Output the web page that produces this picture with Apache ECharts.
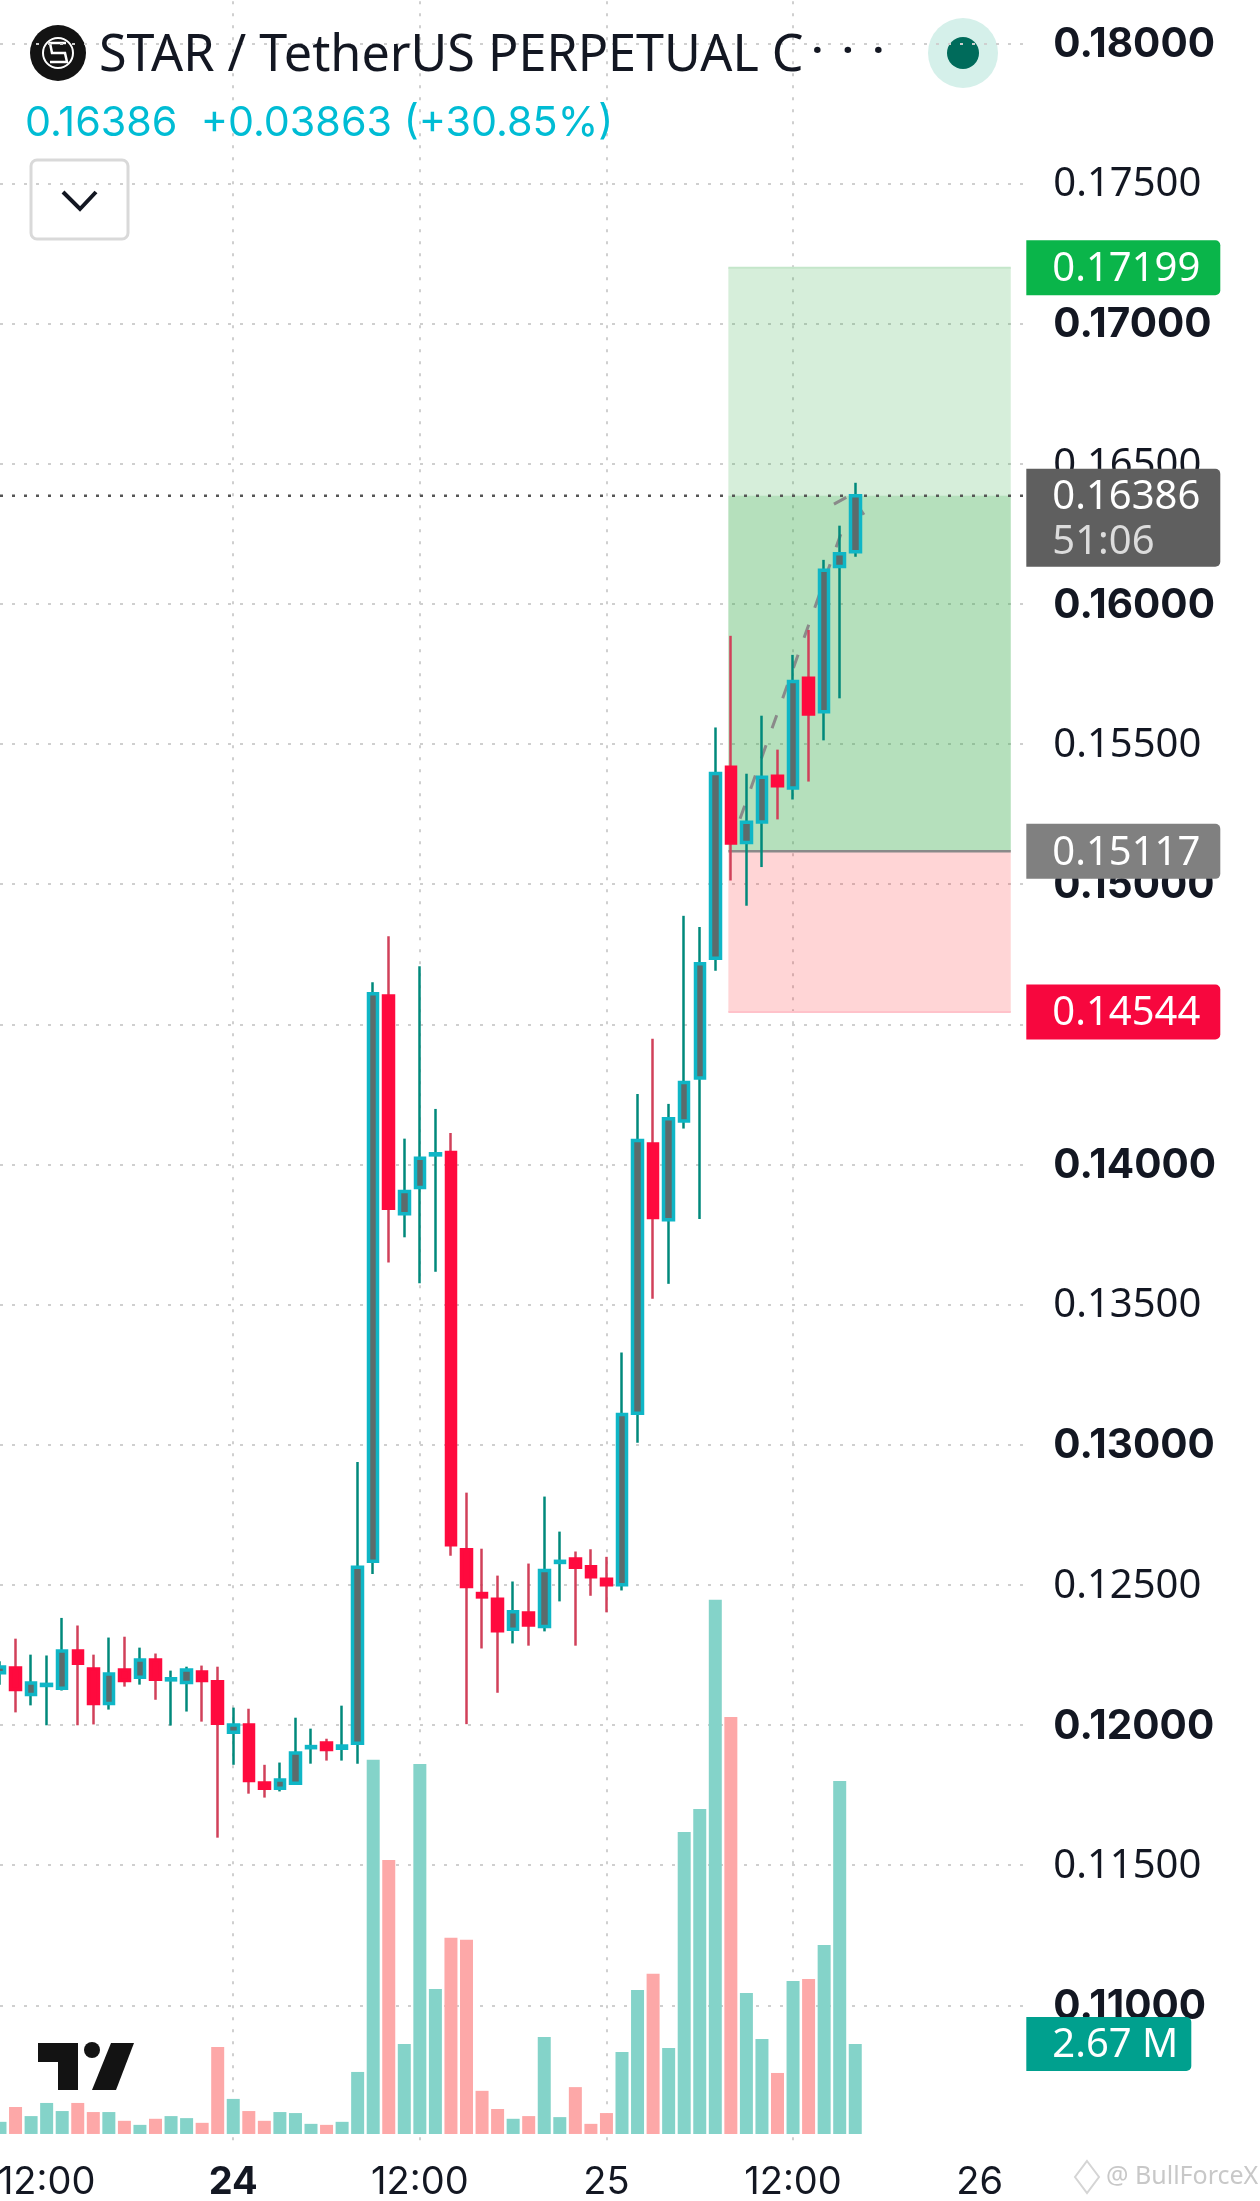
<!DOCTYPE html>
<html><head><meta charset="utf-8">
<style>html,body{margin:0;padding:0;background:#fff}#c{width:1260px;height:2201px}</style>
<script src="https://cdn.jsdelivr.net/npm/echarts@6/dist/echarts.min.js"></script>
</head><body><div id="c"></div>
<script>
const titleText = 'STAR / TetherUS PERPETUAL C';
const subtitleText = '0.16386  +0.03863 (+30.85%)';
const firstHour = 9; // bar 0 is 09:00 on the 23rd; x axis counts hours from 23rd 00:00
const lastHour = 75;
const opens = [.12186,.12203,.12109,.12141,.12131,.12264,.12200,.12077,.12196,.12170,.12232,.12161,.12152,.12189,.12154,.11974,.12000,.11793,.11774,.11792,.11919,.11936,.11917,.11935,.12584,.14601,.13824,.13918,.14034,.14043,.12625,.12469,.12449,.12342,.12400,.12351,.12580,.12592,.12565,.12520,.12500,.13112,.14073,.13803,.14155,.14308,.14736,.15417,.15149,.15222,.15385,.15343,.15735,.15615,.16133,.16186];
const closes = [.12207,.12127,.12150,.12145,.12264,.12220,.12077,.12182,.12159,.12232,.12163,.12165,.12196,.12159,.12006,.12000,.11802,.11774,.11804,.11900,.11923,.11913,.11925,.12563,.14609,.13844,.13903,.14022,.14038,.12643,.12494,.12457,.12336,.12404,.12357,.12551,.12584,.12563,.12529,.12500,.13108,.14085,.13811,.14163,.14292,.14716,.15395,.15147,.15221,.15381,.15351,.15723,.15607,.16120,.16179,.16386];
const lows = [.12144,.12045,.12070,.11999,.12123,.11999,.12002,.12055,.12137,.12144,.12090,.11998,.12048,.12012,.11598,.11858,.11755,.11741,.11763,.11787,.11862,.11873,.11873,.11862,.12539,.13650,.13740,.13576,.13617,.12604,.12003,.12273,.12115,.12291,.12283,.12334,.12441,.12283,.12461,.12402,.12480,.13007,.13521,.13574,.14128,.13805,.14691,.15013,.14923,.15061,.15231,.15302,.15366,.15513,.15663,.16168];
const highs = [.12227,.12308,.12251,.12248,.12382,.12355,.12251,.12312,.12315,.12276,.12255,.12194,.12208,.12212,.12208,.12062,.12058,.11858,.11866,.12026,.11987,.11951,.12069,.12938,.14650,.14814,.14092,.14707,.14198,.14112,.12829,.12629,.12533,.12512,.12576,.12815,.12690,.12619,.12627,.12600,.13329,.14251,.14448,.14216,.14887,.14847,.15559,.15886,.15394,.15601,.15480,.15818,.15907,.16157,.16279,.16432];
const volumes = [.36,.80,.53,.92,.68,.92,.65,.65,.39,.27,.45,.53,.47,.33,2.58,1.04,.68,.39,.65,.62,.30,.27,.36,1.84,11.10,8.13,2.67,10.98,4.30,5.82,5.76,1.28,.74,.45,.53,2.88,.50,1.39,.30,.62,2.43,4.27,4.75,2.55,8.96,9.64,15.85,12.37,4.18,2.82,1.81,4.54,4.60,5.61,10.47,2.67];
const tickHours = [12,24,36,48,60,72];
const tickLabels = ['12:00','{b|24}','12:00','25','12:00','26'];
const lastPrice = .16386, targetPrice = .17199, entryPrice = .15117, stopPrice = .14544, lastVolume = 2.67;
const countdown = '51:06', volumeLabel = '2.67 M';
const positionStartHour = 55.84, positionEndHour = 74;
const projectionPath = [[56.59,.15233],[63.28,.16282],'-',[62.63,.16356],[63.7,.16388],[64.56,.16318]];

const FONT = '"Noto Sans"', NUM = 'Inter';
const hoursOf = i => i + firstHour;
const wickData = opens.map((o,i)=>[hoursOf(i),o,closes[i],lows[i],highs[i]]);
const bodyData = opens.map((o,i)=>[hoursOf(i),o,closes[i],Math.min(o,closes[i]),Math.max(o,closes[i])]);
const volData = volumes.map((v,i)=>({value:v,itemStyle:{color:closes[i]>=opens[i]?'#84d3c9':'#fda8a8'}}));
const barCategories = [];
for(let h=firstHour;h<=lastHour;h++)barCategories.push(String(h));
const zones = [
  [positionStartHour,positionEndHour,targetPrice,entryPrice,'rgba(50,170,70,0.2)'],
  [positionStartHour,positionEndHour,lastPrice,entryPrice,'rgba(50,170,70,0.2)'],
  [positionStartHour,positionEndHour,entryPrice,stopPrice,'rgba(255,20,30,0.18)']
];
const zoneColors = zones.map(z=>z[4]);
const tags = [
 {y:0,value:targetPrice,text:'0.17199',color:'#0ab54a',h:55,w:194},
 {y:0,value:stopPrice,text:'0.14544',color:'#f7073e',h:55,w:194},
 {y:0,value:entryPrice,text:'0.15117',color:'#808080',h:55,w:194},
 {y:0,value:lastPrice,text:'0.16386',sub:countdown,color:'#5f5f5f',h:98,w:194},
 {y:1,value:lastVolume,text:volumeLabel,color:'#00a08e',h:54,w:165}
];
function flatLine(p,a,b,color,width,type,z){
  return {type:'line',xAxisIndex:0,yAxisIndex:0,data:[[a,p],[b,p]],symbol:'none',silent:true,z:z,
    lineStyle:{color,width,type}};
}
const chart = echarts.init(document.getElementById('c'),null,{renderer:'canvas'});
const gridLine = {show:true,showMinLine:false,showMaxLine:false,lineStyle:{color:'#cfcfcf',width:2,type:[3,9]}};
function volumeY(v){ return chart.convertToPixel({yAxisIndex:1},v); }
chart.setOption({
  animation:false,
  backgroundColor:'#fff',
  title:[
    {text:titleText,left:94,top:27,textStyle:{fontFamily:FONT,fontSize:50.3,fontWeight:'normal',color:'#131722'}},
    {text:subtitleText,left:20,top:98,textStyle:{fontFamily:NUM,fontSize:41.3,fontWeight:'normal',color:'#00bcd4'}}
  ],
  grid:{left:0,top:1.26,width:1026.3,height:2144.16,containLabel:false,outerBoundsMode:'none'},
  xAxis:[
   {type:'value',min:firstHour,max:lastHour,
    axisLine:{show:false},axisTick:{show:false,customValues:tickHours},splitLine:gridLine,
    axisLabel:{show:true,customValues:tickHours,margin:18,fontFamily:NUM,fontSize:38,color:'#131722',hideOverlap:false,
      formatter:v=>{const k=tickHours.indexOf(v);return k<0?'':tickLabels[k];},
      rich:{b:{fontFamily:NUM,fontSize:38,fontWeight:'bold',color:'#131722'}}}},
   {type:'category',show:false,boundaryGap:false,data:barCategories}
  ],
  yAxis:[
    {type:'value',position:'right',min:.105,max:.1815,interval:.005,
     axisLine:{show:false},axisTick:{show:false},splitLine:gridLine,
     axisLabel:{show:true,inside:false,margin:27,align:'left',fontFamily:FONT,fontSize:40,color:'#131722',
       showMinLabel:false,showMaxLabel:false,
       formatter:v=>{const n=Math.round(v*1e5);
         if(n%500!==0||n<=10500)return '';
         return n%1000===0?'{b|'+v.toFixed(5)+'}':'{r|'+v.toFixed(5)+'}';},
       rich:{b:{fontFamily:NUM,fontSize:40.5,fontWeight:'bold',color:'#131722',padding:[3,0,0,0]},
             r:{fontFamily:FONT,fontSize:40,color:'#131722',padding:[3,0,0,0]}}}},
    {type:'value',show:false,min:-.34,max:63.28,splitLine:{show:false}}
  ],
  series:[
    {type:'custom',name:'position',xAxisIndex:0,yAxisIndex:0,clip:false,z:1,silent:true,
     data:zones.map(z=>z.slice(0,4)),encode:{x:[0,1],y:[2,3]},
     renderItem:(p,api)=>{const a=api.coord([api.value(0),api.value(2)]),b=api.coord([api.value(1),api.value(3)]);
       return {type:'rect',shape:{x:a[0],y:a[1],width:b[0]-a[0],height:b[1]-a[1]},style:{fill:zoneColors[p.dataIndex]}};}},
    flatLine(targetPrice,positionStartHour,positionEndHour,'#c4e6ca',2,'solid',1),
    flatLine(stopPrice,positionStartHour,positionEndHour,'#ffc2ca',2,'solid',1),
    flatLine(entryPrice,positionStartHour,positionEndHour,'#8a8a8a',2.5,'solid',1),
    {type:'bar',name:'volume',xAxisIndex:1,yAxisIndex:1,barWidth:13,data:volData,z:2,silent:true},
    {type:'line',name:'projection',xAxisIndex:0,yAxisIndex:0,data:projectionPath,symbol:'none',connectNulls:false,z:2,silent:true,
     lineStyle:{color:'#8a8a8a',width:3,type:[14,18]}},
    flatLine(lastPrice,firstHour,lastHour,'#555',2.5,[3,9],3),
    {type:'candlestick',name:'wicks',xAxisIndex:0,yAxisIndex:0,barWidth:1,data:wickData,z:4,silent:true,
     itemStyle:{color:'#00897b',color0:'#d1405a',borderColor:'#00897b',borderColor0:'#d1405a',borderColorDoji:'#00897b',borderWidth:2.5}},
    {type:'candlestick',name:'bodies',xAxisIndex:0,yAxisIndex:0,barWidth:10,data:bodyData,z:5,silent:true,
     itemStyle:{color:'#5c6b6b',color0:'#ff0a3e',borderColor:'#0fb6c6',borderColor0:'#ff0a3e',borderColorDoji:'#0fb6c6',borderWidth:3.5}},
    {type:'custom',name:'tags',xAxisIndex:0,yAxisIndex:0,clip:false,z:10,silent:true,
     data:tags.map((t,i)=>[i]),encode:{x:0},
     renderItem:(p,api)=>{
       const t=tags[p.dataIndex];
       const c=p.coordSys;
       const x=c.x+c.width;
       const yc=t.y===0?api.coord([firstHour,t.value])[1]:volumeY(t.value);
       const top=t.sub?yc-27:yc-t.h/2;
       const kids=[{type:'rect',shape:{x:x,y:top,width:t.w,height:t.h,r:[0,5,5,0]},style:{fill:t.color}},
         {type:'text',style:{x:x+26,y:yc+2,text:t.text,fill:'#fff',font:'40px '+FONT,verticalAlign:'middle'}}];
       if(t.sub)kids.push({type:'text',style:{x:x+26,y:yc+47,text:t.sub,fill:'#dcdcdc',font:'40px '+FONT,verticalAlign:'middle'}});
       return {type:'group',children:kids};
     }}
  ],
  graphic:[
    {type:'circle',shape:{cx:58,cy:53,r:28},style:{fill:'#131313'}},
    {type:'circle',shape:{cx:58,cy:53,r:15},style:{fill:'none',stroke:'#fff',lineWidth:2}},
    {type:'polyline',shape:{points:[[66,43],[50,43],[52,53],[65,53],[67,62],[50,62]]},style:{fill:'none',stroke:'#fff',lineWidth:2.5}},
    {type:'text',style:{x:812,y:52,text:'·  ·  ·',fill:'#131722',font:'bold 38px '+FONT,verticalAlign:'middle'}},
    {type:'circle',shape:{cx:963,cy:53,r:35},style:{fill:'#d5f0ea'}},
    {type:'circle',shape:{cx:963,cy:53,r:16},style:{fill:'#006b5b'}},
    {type:'rect',shape:{x:31,y:160,width:97,height:79,r:6},style:{fill:'#fff',stroke:'#d9d9d9',lineWidth:3}},
    {type:'polyline',shape:{points:[[63,192],[80,209],[96,192]]},style:{fill:'none',stroke:'#131722',lineWidth:4}},
    {type:'polygon',shape:{points:[[38,2043],[78,2043],[78,2090],[58,2090],[58,2062],[38,2062]]},style:{fill:'#131313'},z:6},
    {type:'circle',shape:{cx:92,cy:2050,r:8},style:{fill:'#131313'},z:6},
    {type:'polygon',shape:{points:[[111,2043],[134,2043],[116,2090],[92,2090]]},style:{fill:'#131313'},z:6},
    {type:'polygon',shape:{points:[[1087,2161],[1099,2177],[1087,2193],[1075,2177]]},style:{fill:'none',stroke:'#d5d5d5',lineWidth:2}},
    {type:'text',style:{x:1106,y:2177,text:'@ BullForceX',fill:'#c8c8c8',font:'25px '+FONT,verticalAlign:'middle'}}
  ]
});
chart.setOption({});
</script></body></html>
